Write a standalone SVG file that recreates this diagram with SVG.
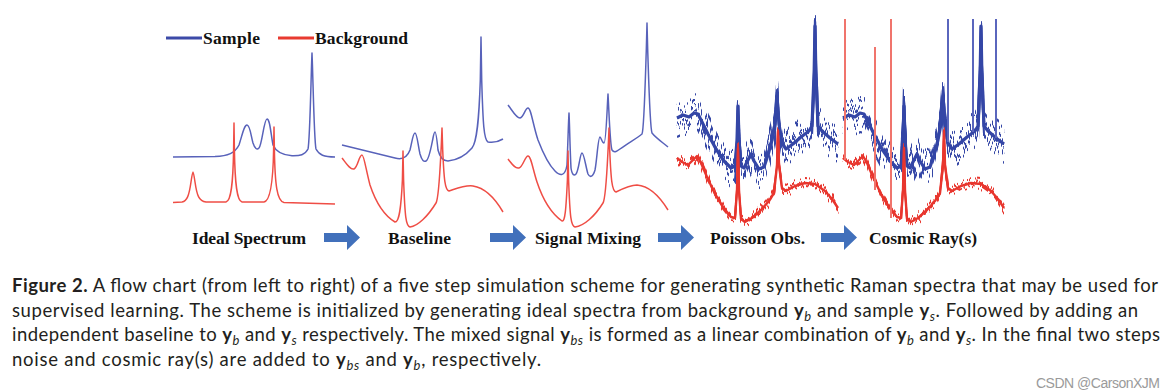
<svg xmlns="http://www.w3.org/2000/svg" xmlns:xlink="http://www.w3.org/1999/xlink" width="1172" height="391" viewBox="0 0 1172 391">
<style>
.lbl{font-family:"Liberation Serif","Times New Roman",serif;font-weight:bold;font-size:17.5px;fill:#111}
.cap{font-family:Lato,"Open Sans",sans-serif;font-size:18.5px;fill:#231f20}
.b{font-weight:bold}
.sub{font-style:italic;font-size:13px}
.ib{fill:none;stroke:#5862ba;stroke-width:1.5;stroke-linejoin:round}
.ir{fill:none;stroke:#ef4d45;stroke-width:1.5;stroke-linejoin:round}
.nbc{fill:none;stroke:#3446a6;stroke-width:3.2;stroke-linejoin:round}
.nb{fill:none;stroke:#3446a6;stroke-width:2.2;stroke-linejoin:round}
.nrc{fill:none;stroke:#e8362e;stroke-width:2.4;stroke-linejoin:round}
.nr{fill:none;stroke:#e8362e;stroke-width:1.8;stroke-linejoin:round}
.sr{stroke:#f0746c;stroke-width:2}
.sb{stroke:#5a66bd;stroke-width:2}
.arr{fill:#4170bb}
.wm{font-family:"Liberation Sans",Arial,sans-serif;font-size:14px;fill:#9a9a9a}
</style>
<defs>
<path id="arrow" d="M0,-4.5 H23 V-12.5 L36,0 L23,12.5 V4.5 H0 Z"/>
<path id="b4" d="M677,118 L683,115 L689,117 L694,113 L698,114 L702,122 L708,134 L716,149 L724,161 L731,168 L735,166 L737,140 L738,106 L739,140 L741,166 L744,168 L748,160 L751,154 L754,161 L759,169 L764,167 L768,155 L772,140 L775,124 L777,96 L779,124 L782,143 L786,149 L793,144 L801,137 L809,131 L812,126 L814.2,70 L815,26 L815.8,70 L818,126 L822,131 L830,138 L838,144"/>
<path id="r4" d="M677,158 L682,162 L688,165 L693,160 L697,156 L701,163 L707,177 L715,194 L723,207 L731,217 L735,218 L737,190 L738,148 L739,190 L741,219 L745,222 L752,218 L761,210 L769,201 L774,193 L777,165 L778,131 L779,165 L782,188 L786,191 L795,186 L805,183 L815,184 L825,191 L832,199 L838,208"/>
<filter id="nzB1" filterUnits="userSpaceOnUse" x="660" y="0" width="360" height="260" color-interpolation-filters="sRGB">
<feTurbulence type="fractalNoise" baseFrequency="0.3 0.004" numOctaves="3" seed="3" result="t"/>
<feColorMatrix in="t" type="matrix" values="0 0 0 0 0.5  0 2.2 0 0 -0.6  0 0 0 0 0  0 0 0 0 1" result="m"/>
<feDisplacementMap in="SourceGraphic" in2="m" scale="38" xChannelSelector="R" yChannelSelector="G"/>
</filter>
<filter id="nzB2" filterUnits="userSpaceOnUse" x="660" y="0" width="360" height="260" color-interpolation-filters="sRGB">
<feTurbulence type="fractalNoise" baseFrequency="0.45 0.004" numOctaves="3" seed="17" result="t"/>
<feColorMatrix in="t" type="matrix" values="0 0 0 0 0.5  0 2.2 0 0 -0.6  0 0 0 0 0  0 0 0 0 1" result="m"/>
<feDisplacementMap in="SourceGraphic" in2="m" scale="26" xChannelSelector="R" yChannelSelector="G"/>
</filter>
<filter id="nzB3" filterUnits="userSpaceOnUse" x="660" y="0" width="360" height="260" color-interpolation-filters="sRGB">
<feTurbulence type="fractalNoise" baseFrequency="0.6 0.004" numOctaves="2" seed="29" result="t"/>
<feColorMatrix in="t" type="matrix" values="0 0 0 0 0.5  0 2.2 0 0 -0.6  0 0 0 0 0  0 0 0 0 1" result="m"/>
<feDisplacementMap in="SourceGraphic" in2="m" scale="32" xChannelSelector="R" yChannelSelector="G"/>
</filter>
<filter id="nzR" filterUnits="userSpaceOnUse" x="660" y="0" width="360" height="260" color-interpolation-filters="sRGB">
<feTurbulence type="fractalNoise" baseFrequency="0.4 0.004" numOctaves="3" seed="8" result="t"/>
<feColorMatrix in="t" type="matrix" values="0 0 0 0 0.5  0 2.2 0 0 -0.6  0 0 0 0 0  0 0 0 0 1" result="m"/>
<feDisplacementMap in="SourceGraphic" in2="m" scale="12" xChannelSelector="R" yChannelSelector="G"/>
</filter>
<filter id="nzR2" filterUnits="userSpaceOnUse" x="660" y="0" width="360" height="260" color-interpolation-filters="sRGB">
<feTurbulence type="fractalNoise" baseFrequency="0.55 0.004" numOctaves="2" seed="41" result="t"/>
<feColorMatrix in="t" type="matrix" values="0 0 0 0 0.5  0 2.2 0 0 -0.6  0 0 0 0 0  0 0 0 0 1" result="m"/>
<feDisplacementMap in="SourceGraphic" in2="m" scale="10" xChannelSelector="R" yChannelSelector="G"/>
</filter>
</defs>
<rect width="1172" height="391" fill="#fff"/>

<g id="legend">
<line x1="166" y1="38" x2="202" y2="38" stroke="#3c4aa8" stroke-width="3"/>
<text class="lbl" x="203" y="44" textLength="57">Sample</text>
<line x1="278" y1="38" x2="314" y2="38" stroke="#e83a30" stroke-width="3"/>
<text class="lbl" x="315" y="44" textLength="93">Background</text>
</g>

<g id="panel-ideal">
<path class="ib" d="M173,157 L215,156.5 C228,156 235,153 239,145 C242,136 244,125 247,125 C250,125 251,136 253,143 C255,149 257,150 259,148 C262,145 264,119 267,119 C270,119 271,135 273,145 C276,152 282,155 292,155.8 C300,156 305,155 308,149 C310,140 311,75 312,53 C313,75 314,140 316,149 C319,155 324,157 335,157"/>
<path class="ir" d="M173,202.5 L182,202 C187,201 189,196 191,182 C192,175 192.5,172 193,172 C193.5,172 194,175 195,182 C197,196 199,201 206,202 L226,202 C231,201 233,185 233.6,150 L234,123 L234.4,150 C235,185 237,201 242,202 L264,202 C270,201 273,185 273.6,150 L274,127 L274.4,150 C275,185 277,201 284,202.5 L335,204"/>
<text class="lbl" x="192" y="244" textLength="114">Ideal Spectrum</text>
</g>

<g id="panel-baseline">
<path class="ib" d="M342,145 L395,158 C402,160 407,158 410,150 C412,142 413,133 415,133 C417,133 418,145 420,154 C422,161 424,162 426,161 C429,160 431,148 433,138 C434,133 434.5,132 435,132 C436,132 437,140 438,150 C440,158 443,161 448,161 C458,160 466,155 472,148 C477,142 479,120 480.3,80 L481,37 L481.7,80 C483,125 484,140 488,142 C494,143 498,142 503,139"/>
<path class="ir" d="M342,158 C346,163 350,170 354,169 C358,167 359,155 362,155 C364,155 366,170 370,185 C376,203 385,216 395,222 C399,222 401,210 402.4,180 L403,151 L403.6,180 C405,218 406,226 410,227 C418,226 428,216 436,203 C439,198 440,170 441.3,145 L442,128 L442.7,150 C444,180 445,190 449,191 C458,188 465,185 473,186 C486,188 496,200 503,212"/>
<text class="lbl" x="388" y="244" textLength="63">Baseline</text>
</g>

<g id="panel-mixing">
<path class="ib" d="M508,105 C512,110 516,118 520,118 C524,117 525,108 528,108 C531,108 533,125 538,140 C543,153 548,164 555,171 C560,176 565,177 567,165 C568,140 568.5,120 569,113 C569.5,120 570,150 571,168 C572,175 574,176 576,174 C579,170 580,153 582,153 C584,153 586,168 588,174 C590,178 593,177 595,170 C597,160 598,137 600,137 C601,137 602,143 604,143 C606,143 607,110 608,94 C609,110 610,145 612,150 C614,153 616,152 620,149 C628,143 636,139 642,134 C644,130 645,90 646.3,50 L647,23 L647.7,50 C649,90 650,128 652,133 C656,138 662,142 668,147"/>
<path class="ir" d="M508,159 C512,164 515,169 519,168 C523,167 525,156 528,156 C531,156 533,170 537,182 C543,200 552,214 562,221 C565,222 566,210 567.4,180 L568,151 L568.6,180 C570,218 571,226 575,227 C584,226 595,216 603,203 C606,198 607,170 608.3,145 L609,128 L609.7,150 C611,180 612,191 616,192 C624,188 630,185 637,185 C650,186 660,197 668,210"/>
<text class="lbl" x="535" y="244" textLength="106">Signal Mixing</text>
</g>

<g id="panel-poisson">
<use xlink:href="#b4" href="#b4" class="nbc"/>
<g filter="url(#nzB1)"><use xlink:href="#b4" href="#b4" class="nb"/></g>
<g filter="url(#nzB2)"><use xlink:href="#b4" href="#b4" class="nb"/></g>
<g filter="url(#nzB3)"><use xlink:href="#b4" href="#b4" class="nb"/></g>
<use xlink:href="#r4" href="#r4" class="nrc"/>
<g filter="url(#nzR)"><use xlink:href="#r4" href="#r4" class="nr"/></g>
<g filter="url(#nzR2)"><use xlink:href="#r4" href="#r4" class="nr"/></g>
<text class="lbl" x="710" y="244" textLength="95">Poisson Obs.</text>
</g>

<g id="panel-cosmic">
<use xlink:href="#b4" href="#b4" class="nbc" transform="translate(166,0)"/>
<g filter="url(#nzB1)"><use xlink:href="#b4" href="#b4" class="nb" transform="translate(166,0)"/></g>
<g filter="url(#nzB2)"><use xlink:href="#b4" href="#b4" class="nb" transform="translate(166,0)"/></g>
<g filter="url(#nzB3)"><use xlink:href="#b4" href="#b4" class="nb" transform="translate(166,0)"/></g>
<line class="sb" x1="948" y1="19" x2="948" y2="142"/>
<line class="sb" x1="973" y1="19" x2="973" y2="132"/>
<line class="sb" x1="996" y1="19" x2="996" y2="138"/>
<use xlink:href="#r4" href="#r4" class="nrc" transform="translate(166,0)"/>
<g filter="url(#nzR)"><use xlink:href="#r4" href="#r4" class="nr" transform="translate(166,0)"/></g>
<g filter="url(#nzR2)"><use xlink:href="#r4" href="#r4" class="nr" transform="translate(166,0)"/></g>
<line class="sr" x1="845" y1="19" x2="845" y2="160"/>
<line class="sr" x1="875" y1="47" x2="875" y2="190"/>
<line class="sr" x1="891" y1="19" x2="891" y2="218"/>
<text class="lbl" x="869" y="244" textLength="108">Cosmic Ray(s)</text>
</g>

<g id="connectors">
<use xlink:href="#arrow" href="#arrow" class="arr" transform="translate(324,237.5)"/>
<use xlink:href="#arrow" href="#arrow" class="arr" transform="translate(490,237.5)"/>
<use xlink:href="#arrow" href="#arrow" class="arr" transform="translate(658,237.5)"/>
<use xlink:href="#arrow" href="#arrow" class="arr" transform="translate(821,237.5)"/>
</g>

<g id="caption">
<text class="cap" x="12" y="292" textLength="1146" lengthAdjust="spacing"><tspan class="b">Figure  2.</tspan> A flow chart (from left to right) of a five step simulation scheme for generating synthetic Raman spectra that may be used for</text>
<text class="cap" x="12" y="317" textLength="1126" lengthAdjust="spacing">supervised learning. The scheme is initialized by generating ideal spectra from background <tspan class="b">y</tspan><tspan class="sub" dy="4">b</tspan><tspan dy="-4"> and sample </tspan><tspan class="b">y</tspan><tspan class="sub" dy="4">s</tspan><tspan dy="-4">. Followed by adding an</tspan></text>
<text class="cap" x="12" y="341" textLength="1148" lengthAdjust="spacing">independent baseline to <tspan class="b">y</tspan><tspan class="sub" dy="4">b</tspan><tspan dy="-4"> and </tspan><tspan class="b">y</tspan><tspan class="sub" dy="4">s</tspan><tspan dy="-4"> respectively. The mixed signal </tspan><tspan class="b">y</tspan><tspan class="sub" dy="4">bs</tspan><tspan dy="-4"> is formed as a linear combination of </tspan><tspan class="b">y</tspan><tspan class="sub" dy="4">b</tspan><tspan dy="-4"> and </tspan><tspan class="b">y</tspan><tspan class="sub" dy="4">s</tspan><tspan dy="-4">. In the final two steps</tspan></text>
<text class="cap" x="12" y="366" textLength="529" lengthAdjust="spacing">noise and cosmic ray(s) are added to <tspan class="b">y</tspan><tspan class="sub" dy="4">bs</tspan><tspan dy="-4"> and </tspan><tspan class="b">y</tspan><tspan class="sub" dy="4">b</tspan><tspan dy="-4">, respectively.</tspan></text>
<text class="wm" x="1036" y="388" textLength="124">CSDN @CarsonXJM</text>
</g>
</svg>
